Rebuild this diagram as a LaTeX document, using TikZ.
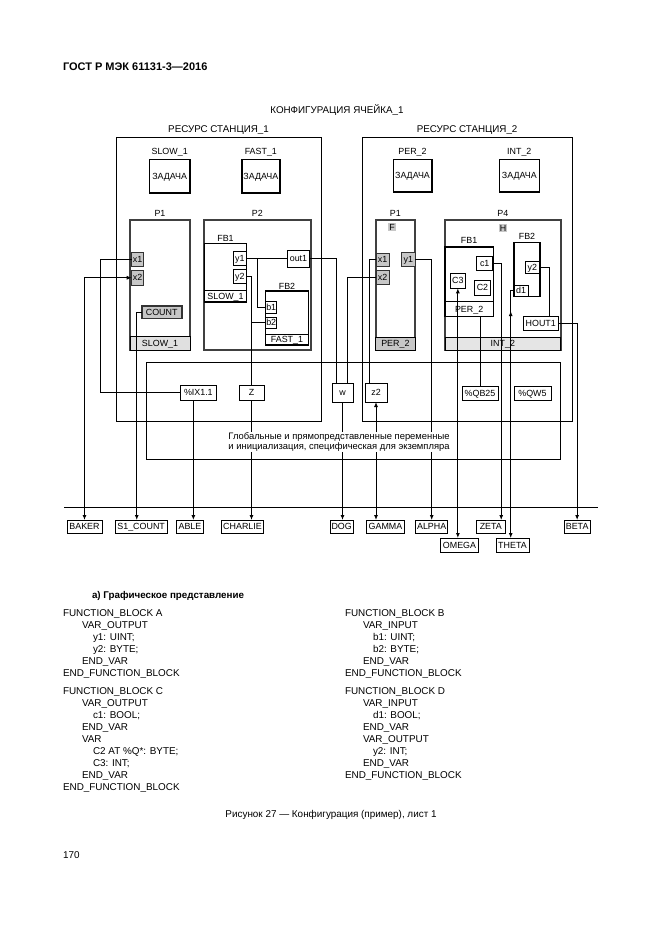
\documentclass[tikz,border=0pt]{standalone}
\usepackage{fontspec}
\setmainfont{Liberation Sans}
\usetikzlibrary{arrows.meta,positioning,decorations.markings}

\newcommand\lblfont{\fontsize{8.9}{10}\selectfont}
\newcommand\hdrfont{\fontsize{9.8}{11}\selectfont}
\newcommand\codefont{\fontsize{9.9}{12}\selectfont}

\tikzset{
  every node/.style={inner sep=0pt, outer sep=0pt},
  sz/.style 2 args={minimum width=#1pt, minimum height=#2pt},
  lbl/.style={font=\lblfont, text height=6.1pt, text depth=0pt},
  hdr/.style={font=\hdrfont, text height=6.7pt, text depth=0pt},
  code/.style={font=\codefont, text height=6.8pt, text depth=0pt, anchor=west},
  resbox/.style={draw, line width=0.9pt, anchor=north west},
  taskbox/.style={draw, line width=1.6pt, anchor=north west, lbl},
  progbox/.style={draw=black!75, line width=1.6pt, anchor=north west},
  fbbox/.style={draw, line width=1.2pt, anchor=north west},
  strip/.style={draw, line width=1pt, anchor=north west, lbl},
  port/.style={draw, line width=1pt, fill=white, anchor=north west, lbl},
  gport/.style={port, fill=black!22, draw=black!80},
  varbox/.style={port},
  wire/.style={line width=0.9pt},
  upmark/.style={postaction={decorate}, decoration={markings,
      mark=at position #1 with {\arrowreversed{Latex[length=5pt,width=4pt]}}}},
  >={Latex[length=5pt,width=4pt]},
}

\begin{document}
\begin{tikzpicture}[x=1pt, y=-1pt]
\fill[white] (0,0) rectangle (661,935);
\useasboundingbox (0,0) rectangle (661,935);

\node[font=\bfseries\fontsize{11}{13}\selectfont, text height=7.6pt, anchor=west] (gost) at (63,66.7) {ГОСТ Р МЭК 61131-3—2016};
\node[hdr] (cfg) at (337,110) {КОНФИГУРАЦИЯ ЯЧЕЙКА\_1};

% resource 1
\node[resbox, sz={205}{284.5}] (res1) at (116,137) {};
\node[hdr, above=5pt of res1] (res1t) {РЕСУРС СТАНЦИЯ\_1};
\node[taskbox, sz={40.7}{33.4}] (tslow) at (149.3,159.3) {ЗАДАЧА};
\node[lbl, above=4.4pt of tslow] (tslowt) {SLOW\_1};
\node[taskbox, sz={38.3}{33.4}] (tfast) at (241.7,159.3) {ЗАДАЧА};
\node[lbl, above=4.4pt of tfast] (tfastt) {FAST\_1};

\node[progbox, sz={60}{130}] (pa) at (130,220) {};
\node[lbl, above=3.2pt of pa] (pat) {P1};
\node[strip, fill=black!12, sz={60}{14}] (pas) at (130,336) {SLOW\_1};
\node[gport, sz={11.6}{14.5}] (xa1) at (131.7,252) {x1};
\node[gport, sz={11.6}{14.5}] (xa2) at (131.7,270.5) {x2};
\node[gport, line width=1.6pt, sz={40}{12.6}] (cnt) at (141.7,305.7) {COUNT};

\node[progbox, sz={106.7}{130}] (pb) at (204,220) {};
\node[lbl, above=3.2pt of pb] (pbt) {P2};
\node[fbbox, sz={42.4}{58.7}] (fba) at (204.3,243.3) {};
\node[lbl, above=2.2pt of fba] (fbat) {FB1};
\node[port, sz={13.7}{13.6}] (ya1) at (233,251.7) {y1};
\node[port, sz={13.7}{13.7}] (ya2) at (233,269.3) {y2};
\node[strip, sz={42.4}{12}] (fbas) at (204.3,290) {SLOW\_1};
\node[port, sz={21.6}{16.6}] (out) at (287.7,250.5) {out1};
\node[fbbox, sz={42.6}{54}] (fbb) at (265.7,291) {};
\node[lbl, above=2pt of fbb] (fbbt) {FB2};
\node[port, sz={11}{11.6}] (ba1) at (265.7,301.7) {b1};
\node[port, sz={11}{11.4}] (ba2) at (265.7,317) {b2};
\node[strip, sz={42.6}{11}] (fbbs) at (265.7,334) {FAST\_1};

% resource 2
\node[resbox, sz={210.3}{284.5}] (res2) at (362,137) {};
\node[hdr, above=5pt of res2] (res2t) {РЕСУРС СТАНЦИЯ\_2};
\node[taskbox, sz={38.4}{32.4}] (tper) at (393.3,159.3) {ЗАДАЧА};
\node[lbl, above=4.4pt of tper] (tpert) {PER\_2};
\node[taskbox, sz={40}{32.7}] (tint) at (499.3,159.3) {ЗАДАЧА};
\node[lbl, above=4.4pt of tint] (tintt) {INT\_2};

\node[progbox, sz={39.3}{130}] (pc) at (375.7,220) {};
\node[lbl, above=3.2pt of pc] (pct) {P1};
\node[lbl, fill=black!22, inner sep=0.8pt] (pcf) at (392,227) {F};
\node[gport, sz={13.3}{13.3}] (xb1) at (376,253) {x1};
\node[gport, sz={13.3}{13.5}] (xb2) at (376,270.5) {x2};
\node[gport, sz={13.3}{14}] (yb1) at (401.7,252.7) {y1};
\node[strip, fill=black!22, sz={39.3}{13}] (pcs) at (375.7,337) {PER\_2};

\node[progbox, sz={115.7}{130}] (pd) at (445,220) {};
\node[lbl, above=3.2pt of pd] (pdt) {P4};
\node[lbl, fill=black!22, inner sep=0.8pt] (pdh) at (503,228) {H};
\node[fbbox, sz={48.3}{69.7}] (fbc) at (445,247) {};
\node[lbl, above=3.9pt of fbc] (fbct) {FB1};
\node[port, sz={16}{14}] (cc1) at (476.7,256.7) {c1};
\node[port, sz={14.3}{15}] (cc3) at (450.7,273.3) {C3};
\node[port, sz={16.4}{15}] (cc2) at (474.3,280) {C2};
\node[strip, sz={48.3}{15}] (fbcs) at (445,301.7) {PER\_2};
\node[fbbox, sz={26}{54}] (fbd) at (514,242.7) {};
\node[lbl, above=2.9pt of fbd] (fbdt) {FB2};
\node[port, sz={13.3}{12.3}] (yd2) at (525.7,261) {y2};
\node[port, sz={14.3}{11.7}] (dd1) at (514,285) {d1};
\node[port, sz={35}{13.3}] (hout) at (523.3,316.7) {HOUT1};
\node[strip, fill=black!10, sz={115.7}{13}] (pds) at (445,337) {INT\_2};

% global variables
\node[resbox, sz={414.7}{97}] (glob) at (146,362) {};
\node[varbox, sz={36.7}{15}] (vix) at (180,385) {\%IX1.1};
\node[varbox, sz={25}{15}] (vz) at (239,385) {Z};
\node[varbox, sz={21}{18.5}] (vw) at (332,383.5) {w};
\node[varbox, sz={22}{18.5}] (vz2) at (365,383.5) {z2};
\node[varbox, sz={36}{13.3}] (vqb) at (462,386.7) {\%QB25};
\node[varbox, sz={37}{13.3}] (vqw) at (514,386.7) {\%QW5};

% access paths
\foreach \nm/\x/\w/\txt in {baker/67/35/BAKER, scnt/115/52.3/S1\_COUNT, able/176.7/26.6/ABLE,
    charlie/221.7/41.6/CHARLIE, dog/330/23.3/DOG, gamma/366.7/37.6/GAMMA,
    alpha/415.7/32/ALPHA, zeta/476.7/28.3/ZETA, beta/564.3/25.7/BETA}
  \node[varbox, sz={\w}{13.3}] (\nm) at (\x,520) {\txt};
\node[varbox, sz={37.6}{14}] (omega) at (440.7,538) {OMEGA};
\node[varbox, sz={33}{14}] (theta) at (496,538) {THETA};

\coordinate (busw) at (64,507);
\coordinate (buse) at (598,507);
\draw[wire] (busw) -- (buse);

% connections, resource 1
\draw[wire] (xa1.west) -- ++(-31.7,0) |- (vix.west);
\draw[wire,<->] (xa2.west) -| (baker.north);
\coordinate (scntin) at ([xshift=-4.4pt]scnt.north);
\draw[wire,->] (cnt.west) -| (scntin);
\coordinate (ixout) at ([xshift=-5pt]vix.south);
\draw[wire,->] (ixout) -- (ixout |- able.north);
\draw[wire] (ya1.east) -- (ya1.east -| out.west);
\coordinate (yjoin) at ([xshift=10.3pt]ya1.east);
\draw[wire] (yjoin) |- (ba1.west);
\draw[wire] (ya2.east) -| (vz.north);
\draw[wire] (ba2.west) -- (ba2.west -| vz.north);
\draw[wire,->] (vz.south) -- (vz.south |- charlie.north);
\coordinate (win1) at ([xshift=-6.5pt]vw.north);
\coordinate (win2) at ([xshift=5.2pt]vw.north);
\draw[wire] (out.east) -| (win1);
\draw[wire] (xb2.west) -| (win2);
\draw[wire,->] (vw.south) -- (vw.south |- dog.north);

% connections, resource 2
\coordinate (z2in) at ([xshift=-6.7pt]vz2.north);
\draw[wire] (xb1.west) -| (z2in);
\draw[wire,<->] (vz2.south) -- (vz2.south |- gamma.north);
\draw[wire,->] (yb1.east) -| (alpha.north);
\draw[wire,<->] (cc3.south) -- (cc3.south |- omega.north);
\draw[wire] (vqb.north) -- (vqb.north |- fbc.south);
\coordinate (zetain) at ([xshift=10.35pt]zeta.north);
\draw[wire,->] (cc1.east) -| (zetain);
\coordinate (thetain) at ([xshift=-1.8pt]theta.north);
\draw[wire,->,upmark=23.5pt] (dd1.west) -| (thetain);
\coordinate (houtin) at ([xshift=8.5pt]hout.north);
\draw[wire] (yd2.east) -| (houtin);
\draw[wire,->] (hout.east) -| (beta.north);

\node[font=\fontsize{9.4}{10}\selectfont, align=center, fill=white, inner sep=0.6pt] (gtxt) at (339,442)
  {Глобальные и прямопредставленные переменные\\и инициализация, специфическая для экземпляра};

\node[font=\bfseries\fontsize{9.8}{12}\selectfont, text height=6.8pt, anchor=west] (subcap) at (92,596) {а) Графическое представление};

% declarations
\foreach \lvl/\txt [count=\i from 0] in {0/FUNCTION\_BLOCK A, 1/VAR\_OUTPUT, 2/y1: UINT;,
    2/y2: BYTE;, 1/END\_VAR, 0/END\_FUNCTION\_BLOCK}{
  \pgfmathsetmacro\indw{{0,19,30}[\lvl]}
  \node[code] (fa\i) at (63+\indw, 613.3+12*\i) {\txt};
}
\foreach \lvl/\txt [count=\i from 0] in {0/FUNCTION\_BLOCK C, 1/VAR\_OUTPUT, 2/c1: BOOL;,
    1/END\_VAR, 1/VAR, 2/C2 AT \%Q*: BYTE;, 2/C3: INT;, 1/END\_VAR, 0/END\_FUNCTION\_BLOCK}{
  \pgfmathsetmacro\indw{{0,19,30}[\lvl]}
  \node[code] (fc\i) at (63+\indw, 691+12*\i) {\txt};
}
\foreach \lvl/\txt [count=\i from 0] in {0/FUNCTION\_BLOCK B, 1/VAR\_INPUT, 2/b1: UINT;,
    2/b2: BYTE;, 1/END\_VAR, 0/END\_FUNCTION\_BLOCK}{
  \pgfmathsetmacro\indw{{0,18,28}[\lvl]}
  \node[code] (fb\i) at (345+\indw, 613.3+12*\i) {\txt};
}
\foreach \lvl/\txt [count=\i from 0] in {0/FUNCTION\_BLOCK D, 1/VAR\_INPUT, 2/d1: BOOL;,
    1/END\_VAR, 1/VAR\_OUTPUT, 2/y2: INT;, 1/END\_VAR, 0/END\_FUNCTION\_BLOCK}{
  \pgfmathsetmacro\indw{{0,18,28}[\lvl]}
  \node[code] (fd\i) at (345+\indw, 691+12*\i) {\txt};
}

\node[font=\fontsize{9.9}{12}\selectfont, text height=6.8pt] (cap) at (331,815) {Рисунок 27 — Конфигурация (пример), лист 1};
\node[font=\codefont, text height=6.8pt, anchor=west] (pgno) at (63,855) {170};
\end{tikzpicture}
\end{document}
